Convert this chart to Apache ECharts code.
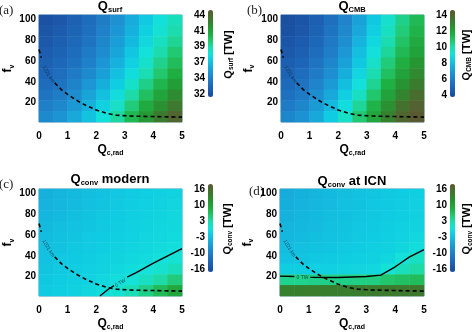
<!DOCTYPE html>
<html><head><meta charset="utf-8">
<script src="https://cdn.jsdelivr.net/npm/echarts@6/dist/echarts.min.js"></script>
<style>html,body{margin:0;padding:0;background:#fff}#c{width:474px;height:332px}</style>
</head><body><div id="c"></div>
<script>
// ---- data ----
const xCats = ['0.25','0.75','1.25','1.75','2.25','2.75','3.25','3.75','4.25','4.75'];
const fCats = ['7','17','27','37','47','58','68','78','89','99']; // bottom -> top
const xTicks = [0,1,2,3,4,5];
const fTicks = [20,40,60,80,100];
// rows listed top (f=99) -> bottom (f=7)
const qSurf = [
 [32.0,32.3,32.8,33.4,34.2,35.1,36.1,37.1,38.0,38.8],
 [32.2,32.5,33.0,33.6,34.4,35.3,36.3,37.4,38.3,39.1],
 [32.4,32.7,33.2,33.8,34.6,35.6,36.6,37.7,38.7,39.5],
 [32.6,32.9,33.4,34.1,34.9,35.9,37.0,38.1,39.1,40.0],
 [32.8,33.2,33.7,34.4,35.3,36.3,37.4,38.5,39.6,40.5],
 [33.1,33.5,34.1,34.8,35.7,36.8,37.9,39.0,40.1,41.1],
 [33.4,33.8,34.5,35.3,36.2,37.3,38.5,39.7,40.8,41.8],
 [33.8,34.2,34.9,35.8,36.8,37.9,39.2,40.4,41.5,42.5],
 [34.3,34.7,35.4,36.3,37.4,38.6,39.9,41.2,42.3,43.3],
 [34.8,35.2,36.0,36.9,38.0,39.3,40.7,42.0,43.2,44.2]
];
const qCMB = [
 [4.0,4.3,4.8,5.4,6.2,7.2,8.3,9.4,10.4,11.2],
 [4.1,4.4,4.9,5.6,6.4,7.4,8.5,9.6,10.6,11.4],
 [4.3,4.6,5.1,5.8,6.6,7.7,8.8,9.9,10.9,11.7],
 [4.5,4.8,5.3,6.0,6.9,8.0,9.1,10.2,11.2,12.0],
 [4.7,5.0,5.6,6.3,7.2,8.3,9.5,10.6,11.6,12.4],
 [4.9,5.3,5.9,6.6,7.6,8.7,9.9,11.0,12.0,12.8],
 [5.2,5.6,6.2,7.0,8.0,9.1,10.3,11.5,12.5,13.3],
 [5.5,5.9,6.6,7.4,8.5,9.6,10.8,12.0,13.0,13.8],
 [5.9,6.3,7.0,7.9,9.0,10.2,11.4,12.6,13.6,14.3],
 [6.3,6.7,7.4,8.4,9.5,10.7,11.9,13.1,14.1,14.7]
];
const qConvModern = [
 [-4.6,-4.2,-3.8,-3.4,-3.0,-2.6,-2.2,-1.9,-1.6,-1.3],
 [-4.4,-4.0,-3.6,-3.2,-2.8,-2.4,-2.0,-1.7,-1.4,-1.1],
 [-4.1,-3.7,-3.3,-2.9,-2.5,-2.2,-1.8,-1.5,-1.2,-0.9],
 [-3.8,-3.4,-3.0,-2.7,-2.3,-2.0,-1.6,-1.3,-1.0,-0.7],
 [-3.5,-3.1,-2.8,-2.4,-2.1,-1.8,-1.4,-1.1,-0.8,-0.4],
 [-3.2,-2.9,-2.5,-2.2,-1.9,-1.5,-1.2,-0.9,-0.5,0.0],
 [-3.0,-2.6,-2.3,-2.0,-1.6,-1.3,-0.9,-0.4,0.1,0.7],
 [-2.7,-2.4,-2.0,-1.7,-1.3,-0.9,-0.3,0.3,1.1,2.0],
 [-2.5,-2.1,-1.8,-1.4,-0.9,-0.3,0.5,1.8,3.2,5.0],
 [-2.2,-1.9,-1.5,-1.0,-0.3,0.8,2.4,4.5,6.8,9.0]
];
const qConvICN = [
 [-5.0,-4.6,-4.2,-3.8,-3.4,-3.0,-2.7,-2.4,-2.1,-1.8],
 [-4.8,-4.4,-4.0,-3.6,-3.2,-2.9,-2.6,-2.3,-2.0,-1.7],
 [-4.5,-4.1,-3.8,-3.4,-3.1,-2.8,-2.5,-2.2,-1.9,-1.5],
 [-4.2,-3.9,-3.6,-3.2,-2.9,-2.6,-2.3,-2.0,-1.7,-1.3],
 [-3.9,-3.6,-3.3,-3.0,-2.7,-2.4,-2.1,-1.8,-1.4,-0.9],
 [-3.5,-3.2,-2.9,-2.7,-2.4,-2.1,-1.8,-1.5,-1.0,-0.2],
 [-3.0,-2.8,-2.5,-2.3,-2.0,-1.8,-1.5,-1.0,0.4,1.8],
 [-2.0,-1.9,-1.7,-1.5,-1.3,-1.1,-0.8,0.6,2.2,3.2],
 [4.2,4.2,4.4,4.4,4.5,4.6,4.8,5.6,6.2,6.6],
 [13.2,13.3,13.4,13.5,13.6,13.7,13.8,13.9,14.0,14.1]
];
// contour lines (x = Q_c,rad, y = f_v)
const line1221 = [[0,71],[0.08,63],[0.3,'-'],[0.55,39],[0.8,32],[1.0,28],[1.3,22.5],[1.6,18],[2.0,13],[2.4,9.5],[2.7,8],[3.2,7.2],[4,6.7],[5,6.2]];
const zeroModern = [[2.13,1.5],[2.4,7.5],[2.62,11.5],[2.8,'-'],[3.08,19.5],[3.4,24],[4.0,33],[4.5,40],[5,47]];
const zeroICN = [[0,20.5],[0.5,20.2],[0.75,'-'],[1.05,19.3],[2,19.2],[3,20.2],[3.5,21.5],[4,29.5],[4.5,39],[5,46]];
const lbl1221 = [[0.33,47]];
const lblZeroModern = [[2.85,14]];
const lblZeroICN = [[0.78,19.5]];
// colorbar tick labels and ranges
const cbSurf = ['32','34','37','39','41','44'];
const cbCMB = ['4','6','8','10','12','14'];
const cbConv = ['-16','-10','-3','3','10','16'];
const rangeSurf = [31.5,44.8];
const rangeCMB = [3.75,14.6];
const rangeConv = [-17.2,18];

// ---- styling ----
const FF = '"Liberation Sans", Arial, sans-serif';
const cmap = ['#1a4a9a','#1c5aac','#1e6cbc','#1f80c8','#1c96d4','#16b0dc','#10cce2','#14e2da','#1cdcae','#22c870','#1fb044','#239a34','#34822e','#4a6c2e','#5a5a32'];
const richAxis = {
  m:{fontSize:12,fontWeight:'bold',fontFamily:FF,color:'#000',lineHeight:15},
  s:{fontSize:7,fontWeight:'bold',fontFamily:FF,color:'#000',lineHeight:7,verticalAlign:'bottom'}
};
const richTitle = {
  m:{fontSize:13,fontWeight:'bold',fontFamily:FF,color:'#000',lineHeight:16},
  s:{fontSize:7.5,fontWeight:'bold',fontFamily:FF,color:'#000',lineHeight:7,verticalAlign:'bottom'}
};
const richCb = {
  m:{fontSize:11,fontWeight:'bold',fontFamily:FF,color:'#000',lineHeight:13},
  s:{fontSize:6.5,fontWeight:'bold',fontFamily:FF,color:'#000',lineHeight:6,verticalAlign:'bottom'}
};

const panels = [
  {grid:{left:39,top:15,width:143,height:107}, data:qSurf, range:rangeSurf, cb:{left:208,top:10,h:87,lt:15,lh:79,gap:9}, cbl:cbSurf,
   cbName:'{m|Q}{s|surf}{m| [TW]}', title:'{m|Q}{s|surf}', tx:110, ty:6, letter:'(a)', lx:-1, ly:11, yGap:21, zero:null},
  {grid:{left:281,top:15,width:143,height:107}, data:qCMB, range:rangeCMB, cb:{left:450,top:10,h:87,lt:15,lh:80,gap:8}, cbl:cbCMB,
   cbName:'{m|Q}{s|CMB}{m| [TW]}', title:'{m|Q}{s|CMB}', tx:352, ty:6, letter:'(b)', lx:247, ly:11, yGap:25, zero:null},
  {grid:{left:39,top:189,width:143,height:108}, data:qConvModern, range:rangeConv, cb:{left:208,top:184,h:88,lt:189,lh:80,gap:8}, cbl:cbConv,
   cbName:'{m|Q}{s|conv}{m| [TW]}', title:'{m|Q}{s|conv}{m| modern}', tx:110, ty:179, letter:'(c)', lx:-1, ly:185, yGap:21,
   zero:zeroModern, zl:lblZeroModern, zrot:33},
  {grid:{left:280,top:189,width:144,height:108}, data:qConvICN, range:rangeConv, cb:{left:450,top:184,h:88,lt:189,lh:80,gap:9}, cbl:cbConv,
   cbName:'{m|Q}{s|conv}{m| [TW]}', title:'{m|Q}{s|conv}{m| at ICN}', tx:352, ty:181, letter:'(d)', lx:249, ly:192, yGap:25,
   zero:zeroICN, zl:lblZeroICN, zrot:0}
];

const grid=[], xAxis=[], yAxis=[], series=[], visualMap=[], graphic=[];
const tickLabel = {fontSize:10,fontWeight:'bold',fontFamily:FF,color:'#000'};
panels.forEach((p,i)=>{
  grid.push(Object.assign({show:true,borderColor:'#6f9fb0',borderWidth:1,backgroundColor:'transparent'},p.grid));
  // hidden category axes for heatmap cells
  xAxis.push({type:'category',gridIndex:i,data:xCats,show:false,position:'top'});
  yAxis.push({type:'category',gridIndex:i,data:fCats,show:false,position:'right'});
  // visible value axes
  xAxis.push({type:'value',gridIndex:i,min:0,max:5,position:'bottom',
    axisLabel:Object.assign({customValues:xTicks,margin:9},tickLabel),
    axisTick:{show:false},axisLine:{show:false},splitLine:{show:false},
    name:'{m|Q}{s|c,rad}',nameLocation:'middle',nameGap:20,nameTextStyle:{rich:richAxis}});
  yAxis.push({type:'value',gridIndex:i,min:1.5,max:104,position:'left',
    axisLabel:Object.assign({customValues:fTicks,margin:3},tickLabel),
    axisTick:{show:false},axisLine:{show:false},splitLine:{show:false},
    name:'{m|f}{s|v}',nameLocation:'middle',nameGap:p.yGap,nameTextStyle:{rich:richAxis}});
  const hm = [];
  p.data.forEach((row,r)=>{ row.forEach((v,c)=>{ hm.push([c, p.data.length-1-r, v]); }); });
  const hIdx = series.length;
  series.push({type:'heatmap',xAxisIndex:2*i,yAxisIndex:2*i,data:hm,silent:true,itemStyle:{borderWidth:0},progressive:0});
  visualMap.push({type:'continuous',seriesIndex:hIdx,min:p.range[0],max:p.range[1],left:p.cb.left,top:p.cb.top,
    itemWidth:5,itemHeight:p.cb.h,calculable:false,padding:0,hoverLink:false,inRange:{color:cmap},textStyle:{fontSize:0}});
  series.push({type:'line',xAxisIndex:2*i+1,yAxisIndex:2*i+1,data:line1221,showSymbol:false,symbol:'none',silent:true,
    lineStyle:{color:'#000',width:1.6,type:[4,3]},z:5,connectNulls:false});
  series.push({type:'scatter',xAxisIndex:2*i+1,yAxisIndex:2*i+1,data:lbl1221,symbolSize:0,silent:true,z:6,
    label:{show:true,position:'inside',formatter:'1221 km',rotate:-58,fontSize:5,color:'#0b2a44',fontFamily:FF}});
  if(p.zero){
    series.push({type:'line',xAxisIndex:2*i+1,yAxisIndex:2*i+1,data:p.zero,showSymbol:false,symbol:'none',silent:true,
      lineStyle:{color:'#000',width:1.4},z:5,connectNulls:false});
    series.push({type:'scatter',xAxisIndex:2*i+1,yAxisIndex:2*i+1,data:p.zl,symbolSize:0,silent:true,z:6,
      label:{show:true,position:'inside',formatter:'0 TW',rotate:p.zrot,fontSize:5,color:'#0b2a20',fontFamily:FF}});
  }
  graphic.push({type:'text',x:p.tx,y:p.ty,silent:true,style:{text:p.title,rich:richTitle,textAlign:'center',textVerticalAlign:'middle'}});
  graphic.push({type:'text',x:p.lx,y:p.ly,silent:true,style:{text:p.letter,font:'13px "Liberation Serif", serif',fill:'#222',textVerticalAlign:'middle'}});
});
// colorbar tick/title axes
panels.forEach((p,k)=>{
  const gi = 4+k;
  grid.push({left:p.cb.left,top:p.cb.lt,width:5,height:p.cb.lh,show:false});
  xAxis.push({type:'value',gridIndex:gi,show:false,min:0,max:1});
  yAxis.push({type:'value',gridIndex:gi,min:0,max:5,position:'left',
    axisLabel:Object.assign({customValues:[0,1,2,3,4,5],margin:3,formatter:(v)=>p.cbl[Math.round(v)]},tickLabel),
    axisTick:{show:false},axisLine:{show:false},splitLine:{show:false}});
  yAxis.push({type:'value',gridIndex:gi,min:0,max:5,position:'right',
    axisLabel:{show:false},axisTick:{show:false},axisLine:{show:false},splitLine:{show:false},
    name:p.cbName,nameLocation:'middle',nameGap:p.cb.gap,nameTextStyle:{rich:richCb}});
});

const chart = echarts.init(document.getElementById('c'),null,{renderer:'canvas'});
chart.setOption({animation:false,grid,xAxis,yAxis,series,visualMap,graphic});
</script></body></html>
